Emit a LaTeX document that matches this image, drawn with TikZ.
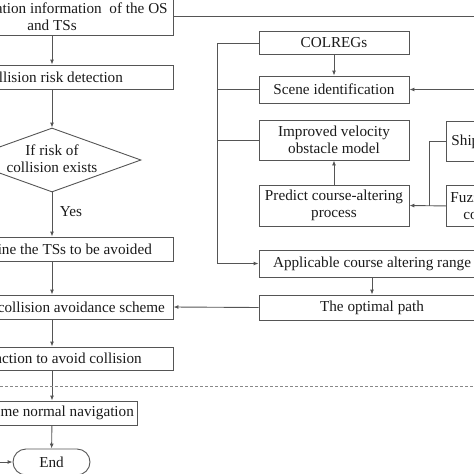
\documentclass[tikz,border=0pt]{standalone}
\usepackage{fontspec}
\setmainfont{Liberation Serif}
\usetikzlibrary{arrows.meta,shapes.geometric,shapes.misc}
\definecolor{ln}{HTML}{555555}
\definecolor{tx}{HTML}{1A1A1A}
\newcommand\fsz{\fontsize{15.2}{17}\selectfont}
\begin{document}
\begin{tikzpicture}[x=1pt,y=-1pt,
  box/.style={draw=ln, line width=0.9pt, rectangle, inner sep=0pt, align=center, font=\fsz, text=tx},
  lbl/.style={inner sep=0pt, align=center, font=\fsz, text=tx},
  arr/.style={draw=ln, line width=0.9pt, -{Latex[length=5pt,width=4pt]}},
  lin/.style={draw=ln, line width=0.9pt},
  dia/.style={draw=ln, line width=0.9pt, diamond, inner sep=0pt, minimum width=178pt, minimum height=64pt},
]
\useasboundingbox (0,0) rectangle (474,474);
\clip (0,0) rectangle (474,474);
% left column
\node[box, minimum width=242pt, minimum height=37pt] (b1) at (52,16.5) {Get navigation information~ of the OS\\and TSs};
\node[box, minimum width=242pt, minimum height=24pt] (b2) at (52,77) {Collision risk detection};
\node[dia] (d) at (52,160) {};
\node[lbl] (dt) at (52,159) {If risk of\\collision exists};
\node[lbl] (yes) at (71,212) {Yes};
\node[box, minimum width=242pt, minimum height=24pt] (b3) at (52,249) {Determine the TSs to be avoided};
\node[box, minimum width=242pt, minimum height=24pt] (b4) at (52,307) {Generate collision avoidance scheme};
\node[box, minimum width=242pt, minimum height=23pt] (b5) at (52,358.5) {Take action to avoid collision};
\node[box, minimum width=170pt, minimum height=24pt] (b6) at (52,413) {Resume normal navigation};
\node[box, rounded rectangle, minimum width=77pt, minimum height=26pt] (end) at (51.5,462) {End};
% right column
\node[box, minimum width=150pt, minimum height=22.6pt] (col) at (334,43) {COLREGs};
\node[box, minimum width=150pt, minimum height=27pt] (scene) at (334,89.5) {Scene identification};
\node[box, minimum width=150pt, minimum height=40pt] (imp) at (334,140) {Improved velocity\\obstacle model};
\node[box, minimum width=150pt, minimum height=41pt] (pred) at (334,205.5) {Predict course-altering\\process};
\node[box, minimum width=226pt, minimum height=27pt] (appl) at (372,263.5) {Applicable course altering range};
\node[box, minimum width=226pt, minimum height=25pt] (opt) at (372,307.5) {The optimal path};
\node[box, anchor=north west, text width=100pt, minimum height=40pt, align=left, inner xsep=5pt] (ship) at (446,121) {Ship domain};
\node[box, anchor=north west, text width=100pt, minimum height=41pt, align=left, inner xsep=4pt] (fuz) at (446,185) {Fuzzy logic\\\hspace*{13pt}control};
% coordinates
\coordinate (rt1) at (490,16.5);
\coordinate (rt2) at (490,89.5);
\coordinate (bus) at (217,43);
\coordinate (jn) at (429,140);
\coordinate (lf) at (-10,462);
% connectors
\draw[arr] (b1) -- (b2);
\draw[arr] (b2) -- (d.north);
\draw[arr] (d.south) -- (b3);
\draw[arr] (b3) -- (b4);
\draw[arr] (b4) -- (b5);
\draw[arr] (b5) -- (b6);
\draw[arr] (b6) -- (end);
\draw[arr] (lf) -- (end.west);
\draw[lin] (b1.east) -- (rt1);
\draw[arr] (rt2) -- (scene.east);
\draw[arr] (col) -- (scene);
\draw[arr] (pred) -- (imp);
\draw[arr] (col.west) -- (bus) |- (appl.west);
\draw[lin] (scene.west) -- (scene.west -| bus);
\draw[lin] (imp.west) -- (imp.west -| bus);
\draw[lin] (ship.west) -- (ship.west -| jn) -- (fuz.west -| jn);
\draw[arr] (fuz.west) -- (pred.east);
\draw[arr] (appl) -- (opt);
\draw[arr] (opt.west) -- (b4.east);
\draw[draw=ln!70, line width=0.8pt, dash pattern=on 3pt off 2pt] (-5,386) -- (490,386);
\end{tikzpicture}
\end{document}
